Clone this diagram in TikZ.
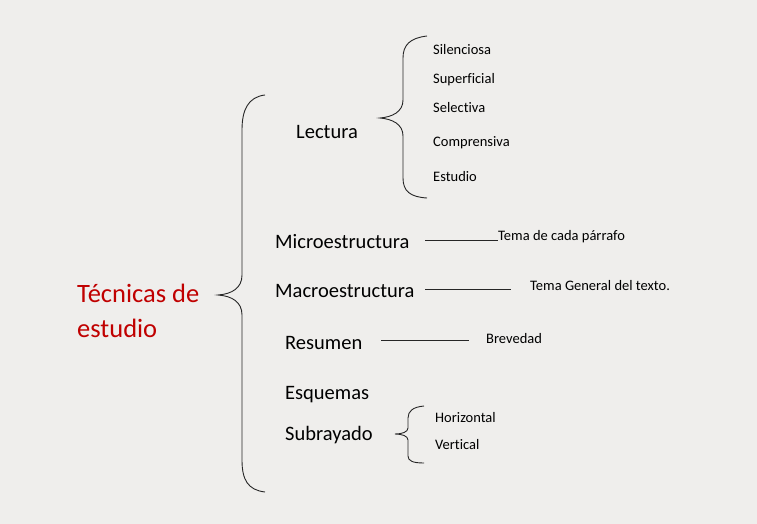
\documentclass[tikz,border=0pt]{standalone}
\usepackage{fontspec}
\setmainfont{Carlito}[Ligatures=NoCommon]
\definecolor{bg}{HTML}{EFEEEC}
\definecolor{titred}{HTML}{C00000}
\begin{document}
\begin{tikzpicture}[x=1pt,y=-1pt,
  big/.style={anchor=west,inner sep=0pt,font=\fontsize{20.5}{20}\selectfont},
  small/.style={anchor=west,inner sep=0pt,font=\fontsize{14.5}{14}\selectfont},
  ln/.style={line width=0.9pt,black!85}]
\fill[bg] (0,0) rectangle (757,524);
\useasboundingbox (0,0) rectangle (757,524);
\node[anchor=west,inner sep=0pt,font=\fontsize{26.5}{26}\selectfont,text=titred] (t1) at (77,293) {Técnicas de};
\node[anchor=west,inner sep=0pt,font=\fontsize{26.5}{26}\selectfont,text=titred] (t2) at (77,328) {estudio};
\node[big] (lec) at (296,132) {Lectura};
\node[big] (mic) at (275,242) {Microestructura};
\node[big] (mac) at (275,291) {Macroestructura};
\node[big] (res) at (285,343) {Resumen};
\node[big] (esq) at (285,395) {Esquemas};
\node[big] (sub) at (285,435) {Subrayado};
\node[small] (s1) at (433,50) {Silenciosa};
\node[small] (s2) at (433,80) {Superficial};
\node[small] (s3) at (433,108) {Selectiva};
\node[small] (s4) at (433,143) {Comprensiva};
\node[small] (s5) at (433,177) {Estudio};
\node[small] (m1) at (498,237) {Tema de cada párrafo};
\node[small] (m2) at (530,286) {Tema General del texto.};
\node[small] (r1) at (486,339) {Brevedad};
\node[small] (h1) at (435,418) {Horizontal};
\node[small] (h2) at (435,445) {Vertical};
\coordinate (a1) at (425,240);
\coordinate (a2) at (425,289);
\coordinate (a3) at (381,340);
\coordinate (b2) at (511,289);
\coordinate (b3) at (469,340);
% big brace
\draw[ln] (265,95) .. controls (248,97) and (242,110) .. (242,130) -- (242,275)
  .. controls (242,288) and (232,294) .. (218,295)
  .. controls (232,296) and (242,302) .. (242,315) -- (242,460)
  .. controls (242,480) and (248,490) .. (265,492);
% lectura brace
\draw[ln] (427,36) .. controls (410,38) and (403,45) .. (403,58) -- (403,100)
  .. controls (403,112) and (392,117) .. (380,118)
  .. controls (392,119) and (403,124) .. (403,136) -- (403,178)
  .. controls (403,191) and (410,197) .. (427,198);
% subrayado brace
\draw[ln] (424,406) .. controls (413,407) and (408,411) .. (408,418) -- (408,428)
  .. controls (408,432) and (402,434) .. (395,434)
  .. controls (402,434) and (408,436) .. (408,440) -- (408,456)
  .. controls (408,461) and (413,463) .. (424,463);
\draw[ln] (a1) -- (a1 -| m1.west);
\draw[ln] (a2) -- (b2);
\draw[ln] (a3) -- (b3);
\end{tikzpicture}
\end{document}
